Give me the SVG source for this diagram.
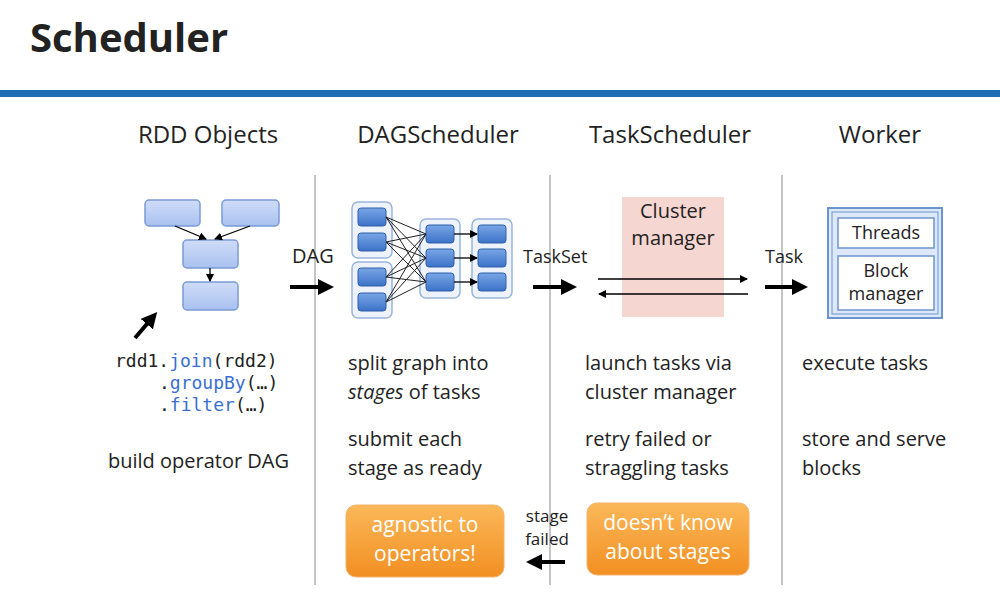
<svg xmlns="http://www.w3.org/2000/svg" width="1000" height="609" viewBox="0 0 1000 609">
<style>
.t{font-family:"Open Sans","Liberation Sans",sans-serif;fill:#222}
.h{font-size:24px}
.b{font-size:20px}
.m{font-family:"DejaVu Sans Mono","Liberation Mono",monospace;font-size:18px;fill:#222}
.kw{fill:#3a6fd0}
.rdd{fill:url(#lb);stroke:#7a9ad6;stroke-width:1.5}
.grp{fill:#eef3fb;stroke:#9ab4dc;stroke-width:1.5}
.sq{fill:url(#db);stroke:#2f5fa8;stroke-width:1}
.sep{stroke:#b0b0b0;stroke-width:1.5}
.big{stroke:#000;stroke-width:4;fill:none;marker-end:url(#ab)}
.thin{stroke:#000;stroke-width:1.3;fill:none}
.or{fill:url(#og);stroke:#f2b36a;stroke-width:1}
.ow{font-family:"Open Sans","Liberation Sans",sans-serif;font-size:21px;fill:#fff}
</style>
<defs>
<linearGradient id="lb" x1="0" y1="0" x2="0" y2="1"><stop offset="0" stop-color="#cfdcf8"/><stop offset="1" stop-color="#a9c1f0"/></linearGradient>
<linearGradient id="db" x1="0" y1="0" x2="0" y2="1"><stop offset="0" stop-color="#7aa6e6"/><stop offset="1" stop-color="#3b72c8"/></linearGradient>
<linearGradient id="og" x1="0" y1="0" x2="0" y2="1"><stop offset="0" stop-color="#fbb859"/><stop offset="1" stop-color="#f28f22"/></linearGradient>
<marker id="ab" markerWidth="4" markerHeight="4" refX="2" refY="2" orient="auto" markerUnits="strokeWidth"><path d="M0,0L4,2L0,4z" fill="#000"/></marker>
<marker id="as" markerWidth="8" markerHeight="8" refX="7" refY="4" orient="auto" markerUnits="userSpaceOnUse"><path d="M0,0L8,4L0,8z" fill="#000"/></marker>
</defs>
<rect width="1000" height="609" fill="#fff"/>
<text class="t" x="30" y="52" font-size="40" font-weight="bold" fill="#000">Scheduler</text>
<rect x="0" y="90" width="1000" height="7" fill="#1f6cb4"/>
<g id="separators">
<line class="sep" x1="315" y1="175" x2="315" y2="585"/>
<line class="sep" x1="550" y1="175" x2="550" y2="585"/>
<line class="sep" x1="782" y1="175" x2="782" y2="585"/>
</g>
<g id="headers">
<text class="t h" x="208" y="143" text-anchor="middle">RDD Objects</text>
<text class="t h" x="438" y="143" text-anchor="middle">DAGScheduler</text>
<text class="t h" x="670" y="143" text-anchor="middle">TaskScheduler</text>
<text class="t h" x="880" y="143" text-anchor="middle">Worker</text>
</g>
<g id="rdd">
<rect class="rdd" x="145" y="200" width="55" height="26" rx="4"/>
<rect class="rdd" x="222" y="200" width="57" height="26" rx="4"/>
<rect class="rdd" x="183" y="240" width="55" height="28" rx="4"/>
<rect class="rdd" x="183" y="282" width="55" height="28" rx="4"/>
</g>
<g id="dag">
<rect class="grp" x="352" y="202" width="40" height="56" rx="6"/>
<rect class="grp" x="352" y="262" width="40" height="56" rx="6"/>
<rect class="grp" x="420" y="219" width="40" height="79" rx="6"/>
<rect class="grp" x="472" y="219" width="40" height="79" rx="6"/>
<rect class="sq" x="358" y="208" width="28" height="18" rx="3"/>
<rect class="sq" x="358" y="233" width="28" height="18" rx="3"/>
<rect class="sq" x="358" y="268" width="28" height="18" rx="3"/>
<rect class="sq" x="358" y="293" width="28" height="18" rx="3"/>
<rect class="sq" x="426" y="225" width="28" height="18" rx="3"/>
<rect class="sq" x="426" y="249" width="28" height="18" rx="3"/>
<rect class="sq" x="426" y="273" width="28" height="18" rx="3"/>
<rect class="sq" x="478" y="225" width="28" height="18" rx="3"/>
<rect class="sq" x="478" y="249" width="28" height="18" rx="3"/>
<rect class="sq" x="478" y="273" width="28" height="18" rx="3"/>
</g>
<g id="cluster">
<rect x="622" y="197" width="102" height="120" fill="#f6d6d0"/>
<text class="t b" x="673" y="218" text-anchor="middle">Cluster</text>
<text class="t b" x="673" y="245" text-anchor="middle">manager</text>
</g>
<g id="worker">
<rect x="828" y="208" width="114" height="110" fill="#dde8f8" stroke="#6c95cf" stroke-width="2"/>
<rect x="832" y="212" width="106" height="102" fill="none" stroke="#6c95cf" stroke-width="1"/>
<rect x="838" y="218" width="96" height="30" fill="#fff" stroke="#6c95cf" stroke-width="1.5"/>
<text class="t" x="886" y="239" font-size="18" text-anchor="middle">Threads</text>
<rect x="838" y="256" width="96" height="54" fill="#fff" stroke="#6c95cf" stroke-width="1.5"/>
<text class="t" x="886" y="277" font-size="18" text-anchor="middle">Block</text>
<text class="t" x="886" y="300" font-size="18" text-anchor="middle">manager</text>
</g>
<g id="connectors">
<line class="thin" x1="175" y1="226" x2="206" y2="239" marker-end="url(#as)"/>
<line class="thin" x1="250" y1="226" x2="215" y2="239" marker-end="url(#as)"/>
<line class="thin" x1="210" y1="268" x2="210" y2="281" marker-end="url(#as)"/>
<line class="big" x1="135" y1="338" x2="152" y2="318"/>
<g stroke="#222" stroke-width="1">
<path d="M386,217L426,234M386,217L426,258M386,217L426,282M386,242L426,234M386,242L426,258M386,242L426,282M386,277L426,234M386,277L426,258M386,277L426,282M386,302L426,234M386,302L426,258M386,302L426,282"/>
</g>
<line class="thin" x1="454" y1="234" x2="477" y2="234" marker-end="url(#as)"/>
<line class="thin" x1="454" y1="258" x2="477" y2="258" marker-end="url(#as)"/>
<line class="thin" x1="454" y1="282" x2="477" y2="282" marker-end="url(#as)"/>
<line class="big" x1="290" y1="287" x2="326" y2="287"/>
<line class="big" x1="533" y1="287" x2="569" y2="287"/>
<line class="big" x1="765" y1="287" x2="800" y2="287"/>
<line class="thin" x1="598" y1="279" x2="747" y2="279" marker-end="url(#as)"/>
<line class="thin" x1="748" y1="294" x2="599" y2="294" marker-end="url(#as)"/>
<line class="big" x1="565" y1="562" x2="534" y2="562"/>
</g>
<g id="labels">
<text class="t b" x="292" y="263">DAG</text>
<text class="t" x="523" y="263" font-size="18">TaskSet</text>
<text class="t" x="765" y="263" font-size="18">Task</text>
<text class="t" x="547" y="522" font-size="17" text-anchor="middle">stage</text>
<text class="t" x="547" y="545" font-size="17" text-anchor="middle">failed</text>
</g>
<g id="code">
<text class="m" x="115" y="367">rdd1.<tspan class="kw">join</tspan>(rdd2)</text>
<text class="m" x="159" y="389">.<tspan class="kw">groupBy</tspan>(…)</text>
<text class="m" x="159" y="411">.<tspan class="kw">filter</tspan>(…)</text>
<text class="t b" x="108" y="468">build operator DAG</text>
</g>
<g id="descriptions">
<text class="t b" x="348" y="370">split graph into</text>
<text class="t b" x="348" y="399"><tspan font-style="italic">stages</tspan> of tasks</text>
<text class="t b" x="348" y="446">submit each</text>
<text class="t b" x="348" y="475">stage as ready</text>
<text class="t b" x="585" y="370">launch tasks via</text>
<text class="t b" x="585" y="399">cluster manager</text>
<text class="t b" x="585" y="446">retry failed or</text>
<text class="t b" x="585" y="475">straggling tasks</text>
<text class="t b" x="802" y="370">execute tasks</text>
<text class="t b" x="802" y="446">store and serve</text>
<text class="t b" x="802" y="475">blocks</text>
</g>
<g id="note-agnostic">
<rect class="or" x="346" y="505" width="158" height="72" rx="10"/>
<text class="ow" x="425" y="532" text-anchor="middle">agnostic to</text>
<text class="ow" x="425" y="561" text-anchor="middle">operators!</text>
</g>
<g id="note-stages">
<rect class="or" x="587" y="503" width="162" height="72" rx="10"/>
<text class="ow" x="668" y="530" text-anchor="middle">doesn’t know</text>
<text class="ow" x="668" y="559" text-anchor="middle">about stages</text>
</g>
</svg>
